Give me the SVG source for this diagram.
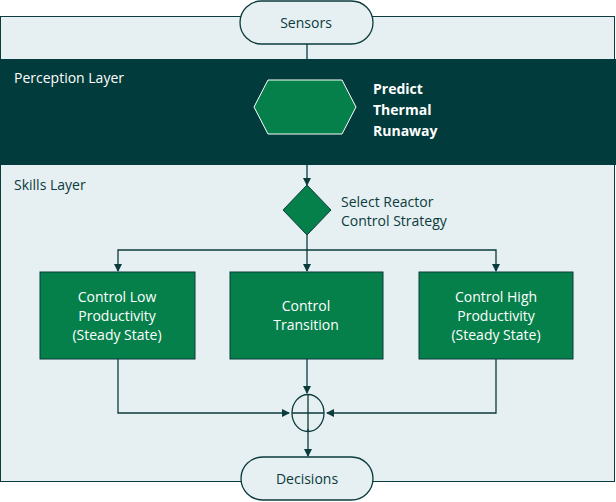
<svg xmlns="http://www.w3.org/2000/svg" width="616" height="502" viewBox="0 0 616 502">
<style>
text{font-family:"Open Sans","Liberation Sans",sans-serif;font-size:14px}
.w{fill:#fff}.d{fill:#0b3b3d}
.box{fill:#05804a;stroke:#0b3b3d;stroke-width:1}
.pill{fill:#e6eff1;stroke:#0b3b3d;stroke-width:1.3}
.ln{fill:none;stroke:#0b3b3d;stroke-width:1.3}
</style>
<defs><marker id="a" markerWidth="8" markerHeight="8" refX="7" refY="4" orient="auto" markerUnits="userSpaceOnUse"><path d="M0,0L8,4L0,8z" fill="#0b3b3d"/></marker></defs>
<rect x="0.5" y="16.5" width="614" height="465" fill="#e6eff1" stroke="#0b3b3d"/>
<rect x="0" y="59" width="616" height="106" fill="#013b3b"/>
<text x="14" y="83" class="w">Perception Layer</text>
<text x="14" y="190" class="d">Skills Layer</text>
<g id="connectors">
<path class="ln" d="M307,43V59"/>
<path class="ln" d="M307,165V185" marker-end="url(#a)"/>
<path class="ln" d="M307,235V250H118V271" marker-end="url(#a)"/>
<path class="ln" d="M307,250V271" marker-end="url(#a)"/>
<path class="ln" d="M307,250H496V271" marker-end="url(#a)"/>
<path class="ln" d="M307,359V393" marker-end="url(#a)"/>
<path class="ln" d="M118,359V413H289" marker-end="url(#a)"/>
<path class="ln" d="M496,359V413H327" marker-end="url(#a)"/>
<path class="ln" d="M308,429V456" marker-end="url(#a)"/>
</g>
<g id="sensors"><rect class="pill" x="240" y="1" width="133" height="43" rx="21.5"/><text x="306" y="28" text-anchor="middle" class="d">Sensors</text></g>
<g id="predict"><polygon points="254,107 268,80 342,80 356,107 342,134 268,134" fill="#05804a" stroke="#fff" stroke-width="1"/>
<text class="w" font-weight="bold" x="373" y="94">Predict</text><text class="w" font-weight="bold" x="373" y="115">Thermal</text><text class="w" font-weight="bold" x="373" y="136">Runaway</text></g>
<g id="select"><polygon points="307,185 331,210 307,235 283,210" class="box"/>
<text class="d" x="341" y="207">Select Reactor</text><text class="d" x="341" y="226">Control Strategy</text></g>
<g id="low"><rect class="box" x="40" y="272" width="155" height="87"/>
<text class="w" text-anchor="middle" x="117" y="302">Control Low</text><text class="w" text-anchor="middle" x="117" y="321">Productivity</text><text class="w" text-anchor="middle" x="117" y="340">(Steady State)</text></g>
<g id="trans"><rect class="box" x="230" y="272" width="153" height="87"/>
<text class="w" text-anchor="middle" x="306" y="311">Control</text><text class="w" text-anchor="middle" x="306" y="330">Transition</text></g>
<g id="high"><rect class="box" x="419" y="272" width="154" height="87"/>
<text class="w" text-anchor="middle" x="496" y="302">Control High</text><text class="w" text-anchor="middle" x="496" y="321">Productivity</text><text class="w" text-anchor="middle" x="496" y="340">(Steady State)</text></g>
<g id="sum"><ellipse cx="308" cy="413" rx="16" ry="18.5" fill="none" stroke="#0b3b3d" stroke-width="1.3"/><path class="ln" d="M292,413H324M308,394.5V431.5"/></g>
<g id="decisions"><rect class="pill" x="241" y="457" width="132" height="43" rx="21.5"/><text x="307" y="484" text-anchor="middle" class="d">Decisions</text></g>
</svg>
